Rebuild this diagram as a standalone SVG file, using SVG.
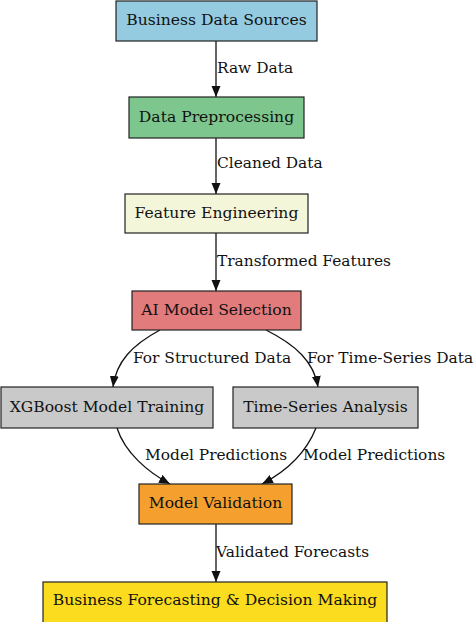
<svg xmlns="http://www.w3.org/2000/svg" width="474" height="622" viewBox="0 0 474 622">
<style>
.n{stroke:#222;stroke-width:1.2}
.t{font-family:"DejaVu Serif",serif;font-size:15.6px;fill:#111;text-anchor:middle;dominant-baseline:central}
.l{font-family:"DejaVu Serif",serif;font-size:15.4px;fill:#111}
.e{fill:none;stroke:#111;stroke-width:1.3;marker-end:url(#ah)}
</style>
<defs>
<marker id="ah" markerUnits="userSpaceOnUse" markerWidth="12" markerHeight="10" refX="11" refY="4.5" orient="auto">
<path d="M0,0 L11,4.5 L0,9 z" fill="#111"/>
</marker>
</defs>
<rect width="474" height="622" fill="#fff"/>
<g id="edges">
<path class="e" d="M216,41 L216,97"/>
<path class="e" d="M216,138 L216,194"/>
<path class="e" d="M216,233 L216,291"/>
<path class="e" d="M160,330 C132,345 116,362 113,387"/>
<path class="e" d="M266,330 C296,345 314,362 318,387"/>
<path class="e" d="M117,428 C125,453 148,472 170,484"/>
<path class="e" d="M316,428 C306,453 285,472 262,484"/>
<path class="e" d="M216,524 L216,582"/>
<text class="l" x="217" y="73">Raw Data</text>
<text class="l" x="217" y="168">Cleaned Data</text>
<text class="l" x="217" y="266">Transformed Features</text>
<text class="l" x="133" y="363">For Structured Data</text>
<text class="l" x="307" y="363">For Time-Series Data</text>
<text class="l" x="145" y="460">Model Predictions</text>
<text class="l" x="303" y="460">Model Predictions</text>
<text class="l" x="216" y="557">Validated Forecasts</text>
</g>
<g id="n1"><rect class="n" x="116" y="1" width="201" height="40" fill="#94cbe0"/><text class="t" x="216.5" y="20">Business Data Sources</text></g>
<g id="n2"><rect class="n" x="129" y="97" width="175" height="41" fill="#7dc78f"/><text class="t" x="216.5" y="117">Data Preprocessing</text></g>
<g id="n3"><rect class="n" x="125" y="194" width="183" height="39" fill="#f3f6d8"/><text class="t" x="216.5" y="213">Feature Engineering</text></g>
<g id="n4"><rect class="n" x="132" y="291" width="169" height="39" fill="#e27b7b"/><text class="t" x="216.5" y="310">AI Model Selection</text></g>
<g id="n5"><rect class="n" x="1" y="387" width="212" height="41" fill="#c9c9c9"/><text class="t" x="107" y="407">XGBoost Model Training</text></g>
<g id="n6"><rect class="n" x="233" y="387" width="185" height="41" fill="#c9c9c9"/><text class="t" x="325.5" y="407">Time-Series Analysis</text></g>
<g id="n7"><rect class="n" x="139" y="484" width="153" height="40" fill="#f5a02e"/><text class="t" x="215.5" y="503">Model Validation</text></g>
<g id="n8"><rect class="n" x="43" y="582" width="344" height="42" fill="#fcdc1e"/><text class="t" x="215" y="600">Business Forecasting &amp; Decision Making</text></g>
</svg>
